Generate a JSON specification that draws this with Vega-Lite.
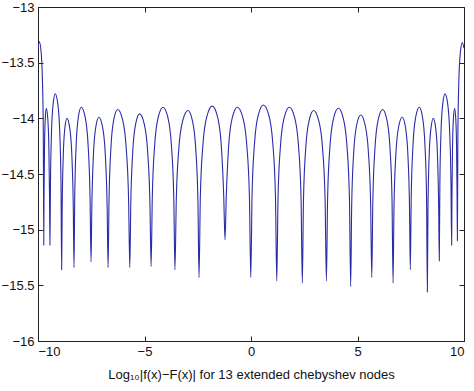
{
  "$schema": "https://vega.github.io/schema/vega-lite/v6.json",
  "width": 426,
  "height": 334,
  "autosize": {"type": "none"},
  "padding": {"left": 38, "top": 7, "right": 10, "bottom": 50},
  "config": {
    "font": "Liberation Sans",
    "view": {"stroke": "#222", "strokeWidth": 1},
    "axis": {
      "grid": false,
      "domainColor": "#222",
      "tickColor": "#222",
      "labelColor": "#111",
      "labelFontSize": 13,
      "labelFont": "Liberation Sans",
      "tickSize": -5,
      "labelPadding": 9,
      "titleFont": "Liberation Sans",
      "titleFontSize": 13,
      "titleFontWeight": "normal",
      "titleColor": "#111"
    }
  },
  "data": {"values": [
    {"x": -10, "y": -13.37},
    {"x": -9.94, "y": -13.31},
    {"x": -9.856, "y": -13.40},
    {"x": -9.793, "y": -13.65},
    {"x": -9.751, "y": -14.12},
    {"x": -9.73, "y": -15.14},
    {"x": -9.718, "y": -14.72},
    {"x": -9.694, "y": -14.25},
    {"x": -9.658, "y": -14.00},
    {"x": -9.61, "y": -13.91},
    {"x": -9.542, "y": -14.00},
    {"x": -9.491, "y": -14.25},
    {"x": -9.457, "y": -14.72},
    {"x": -9.44, "y": -15.14},
    {"x": -9.415, "y": -14.59},
    {"x": -9.365, "y": -14.12},
    {"x": -9.29, "y": -13.87},
    {"x": -9.19, "y": -13.78},
    {"x": -9.07, "y": -13.87},
    {"x": -8.98, "y": -14.12},
    {"x": -8.92, "y": -14.59},
    {"x": -8.89, "y": -15.36},
    {"x": -8.865, "y": -14.81},
    {"x": -8.815, "y": -14.34},
    {"x": -8.74, "y": -14.09},
    {"x": -8.64, "y": -14.00},
    {"x": -8.508, "y": -14.09},
    {"x": -8.409, "y": -14.34},
    {"x": -8.343, "y": -14.81},
    {"x": -8.31, "y": -15.34},
    {"x": -8.276, "y": -14.71},
    {"x": -8.208, "y": -14.24},
    {"x": -8.106, "y": -13.99},
    {"x": -7.97, "y": -13.90},
    {"x": -7.786, "y": -13.99},
    {"x": -7.648, "y": -14.24},
    {"x": -7.556, "y": -14.71},
    {"x": -7.51, "y": -15.29},
    {"x": -7.473, "y": -14.80},
    {"x": -7.399, "y": -14.33},
    {"x": -7.288, "y": -14.08},
    {"x": -7.14, "y": -13.99},
    {"x": -6.968, "y": -14.08},
    {"x": -6.839, "y": -14.33},
    {"x": -6.753, "y": -14.80},
    {"x": -6.71, "y": -15.34},
    {"x": -6.665, "y": -14.73},
    {"x": -6.575, "y": -14.26},
    {"x": -6.44, "y": -14.01},
    {"x": -6.26, "y": -13.92},
    {"x": -6.032, "y": -14.01},
    {"x": -5.861, "y": -14.26},
    {"x": -5.747, "y": -14.73},
    {"x": -5.69, "y": -15.34},
    {"x": -5.644, "y": -14.77},
    {"x": -5.552, "y": -14.30},
    {"x": -5.414, "y": -14.05},
    {"x": -5.23, "y": -13.96},
    {"x": -5.014, "y": -14.05},
    {"x": -4.852, "y": -14.30},
    {"x": -4.744, "y": -14.77},
    {"x": -4.69, "y": -15.33},
    {"x": -4.634, "y": -14.71},
    {"x": -4.522, "y": -14.24},
    {"x": -4.354, "y": -13.99},
    {"x": -4.13, "y": -13.90},
    {"x": -3.906, "y": -13.99},
    {"x": -3.738, "y": -14.24},
    {"x": -3.626, "y": -14.71},
    {"x": -3.57, "y": -15.36},
    {"x": -3.509, "y": -14.74},
    {"x": -3.387, "y": -14.27},
    {"x": -3.204, "y": -14.02},
    {"x": -2.96, "y": -13.93},
    {"x": -2.752, "y": -14.02},
    {"x": -2.596, "y": -14.27},
    {"x": -2.492, "y": -14.74},
    {"x": -2.44, "y": -15.43},
    {"x": -2.378, "y": -14.70},
    {"x": -2.254, "y": -14.23},
    {"x": -2.068, "y": -13.98},
    {"x": -1.82, "y": -13.89},
    {"x": -1.58, "y": -13.98},
    {"x": -1.40, "y": -14.23},
    {"x": -1.28, "y": -14.70},
    {"x": -1.22, "y": -15.09},
    {"x": -1.162, "y": -14.71},
    {"x": -1.046, "y": -14.24},
    {"x": -0.872, "y": -13.99},
    {"x": -0.64, "y": -13.90},
    {"x": -0.388, "y": -13.99},
    {"x": -0.199, "y": -14.24},
    {"x": -0.073, "y": -14.71},
    {"x": -0.01, "y": -15.43},
    {"x": 0.049, "y": -14.69},
    {"x": 0.167, "y": -14.22},
    {"x": 0.344, "y": -13.97},
    {"x": 0.58, "y": -13.88},
    {"x": 0.832, "y": -13.97},
    {"x": 1.021, "y": -14.22},
    {"x": 1.147, "y": -14.69},
    {"x": 1.21, "y": -15.46},
    {"x": 1.269, "y": -14.71},
    {"x": 1.387, "y": -14.24},
    {"x": 1.564, "y": -13.99},
    {"x": 1.80, "y": -13.90},
    {"x": 2.044, "y": -13.99},
    {"x": 2.227, "y": -14.24},
    {"x": 2.349, "y": -14.71},
    {"x": 2.41, "y": -15.48},
    {"x": 2.463, "y": -14.74},
    {"x": 2.569, "y": -14.27},
    {"x": 2.728, "y": -14.02},
    {"x": 2.94, "y": -13.93},
    {"x": 3.18, "y": -14.02},
    {"x": 3.36, "y": -14.27},
    {"x": 3.48, "y": -14.74},
    {"x": 3.54, "y": -15.46},
    {"x": 3.596, "y": -14.72},
    {"x": 3.708, "y": -14.25},
    {"x": 3.876, "y": -14.00},
    {"x": 4.10, "y": -13.91},
    {"x": 4.332, "y": -14.00},
    {"x": 4.506, "y": -14.25},
    {"x": 4.622, "y": -14.72},
    {"x": 4.68, "y": -15.51},
    {"x": 4.727, "y": -14.78},
    {"x": 4.821, "y": -14.31},
    {"x": 4.962, "y": -14.06},
    {"x": 5.15, "y": -13.97},
    {"x": 5.358, "y": -14.06},
    {"x": 5.514, "y": -14.31},
    {"x": 5.618, "y": -14.78},
    {"x": 5.67, "y": -15.43},
    {"x": 5.721, "y": -14.73},
    {"x": 5.823, "y": -14.26},
    {"x": 5.976, "y": -14.01},
    {"x": 6.18, "y": -13.92},
    {"x": 6.376, "y": -14.01},
    {"x": 6.523, "y": -14.26},
    {"x": 6.621, "y": -14.73},
    {"x": 6.67, "y": -15.48},
    {"x": 6.713, "y": -14.80},
    {"x": 6.799, "y": -14.33},
    {"x": 6.928, "y": -14.08},
    {"x": 7.10, "y": -13.99},
    {"x": 7.252, "y": -14.08},
    {"x": 7.366, "y": -14.33},
    {"x": 7.442, "y": -14.80},
    {"x": 7.48, "y": -15.36},
    {"x": 7.522, "y": -14.71},
    {"x": 7.606, "y": -14.24},
    {"x": 7.732, "y": -13.99},
    {"x": 7.90, "y": -13.90},
    {"x": 8.052, "y": -13.99},
    {"x": 8.166, "y": -14.24},
    {"x": 8.242, "y": -14.71},
    {"x": 8.28, "y": -15.56},
    {"x": 8.308, "y": -14.81},
    {"x": 8.364, "y": -14.34},
    {"x": 8.448, "y": -14.09},
    {"x": 8.56, "y": -14.00},
    {"x": 8.672, "y": -14.09},
    {"x": 8.756, "y": -14.34},
    {"x": 8.812, "y": -14.81},
    {"x": 8.84, "y": -15.28},
    {"x": 8.867, "y": -14.59},
    {"x": 8.921, "y": -14.12},
    {"x": 9.002, "y": -13.87},
    {"x": 9.11, "y": -13.78},
    {"x": 9.234, "y": -13.87},
    {"x": 9.327, "y": -14.12},
    {"x": 9.389, "y": -14.59},
    {"x": 9.42, "y": -15.14},
    {"x": 9.434, "y": -14.72},
    {"x": 9.462, "y": -14.25},
    {"x": 9.504, "y": -14.00},
    {"x": 9.56, "y": -13.91},
    {"x": 9.612, "y": -14.00},
    {"x": 9.651, "y": -14.25},
    {"x": 9.677, "y": -14.72},
    {"x": 9.69, "y": -15.10},
    {"x": 9.713, "y": -14.13},
    {"x": 9.759, "y": -13.66},
    {"x": 9.828, "y": -13.41},
    {"x": 9.92, "y": -13.32},
    {"x": 10, "y": -13.37}
  ]},
  "layer": [
    {
      "mark": {"type": "line", "color": "#2b2ba8", "strokeWidth": 1.1, "interpolate": "monotone", "clip": true},
      "encoding": {
        "x": {"field": "x", "type": "quantitative",
              "scale": {"domain": [-10, 10], "nice": false, "zero": false},
              "axis": {"orient": "bottom", "values": [-10, -5, 0, 5, 10], "format": "~r",
                       "title": "Log₁₀|f(x)−F(x)| for 13 extended chebyshev nodes", "titlePadding": 10}},
        "y": {"field": "y", "type": "quantitative",
              "scale": {"domain": [-16, -13], "nice": false, "zero": false},
              "axis": {"orient": "left", "values": [-16, -15.5, -15, -14.5, -14, -13.5, -13], "format": "~r", "title": null}}
      }
    },
    {
      "mark": {"type": "line", "opacity": 0},
      "encoding": {
        "x": {"field": "x", "type": "quantitative",
              "scale": {"domain": [-10, 10], "nice": false, "zero": false},
              "axis": {"orient": "top", "values": [-10, -5, 0, 5, 10], "labels": false, "title": null}},
        "y": {"field": "y", "type": "quantitative",
              "scale": {"domain": [-16, -13], "nice": false, "zero": false},
              "axis": {"orient": "right", "values": [-16, -15.5, -15, -14.5, -14, -13.5, -13], "labels": false, "title": null}}
      }
    }
  ],
  "resolve": {"axis": {"x": "independent", "y": "independent"}}
}
